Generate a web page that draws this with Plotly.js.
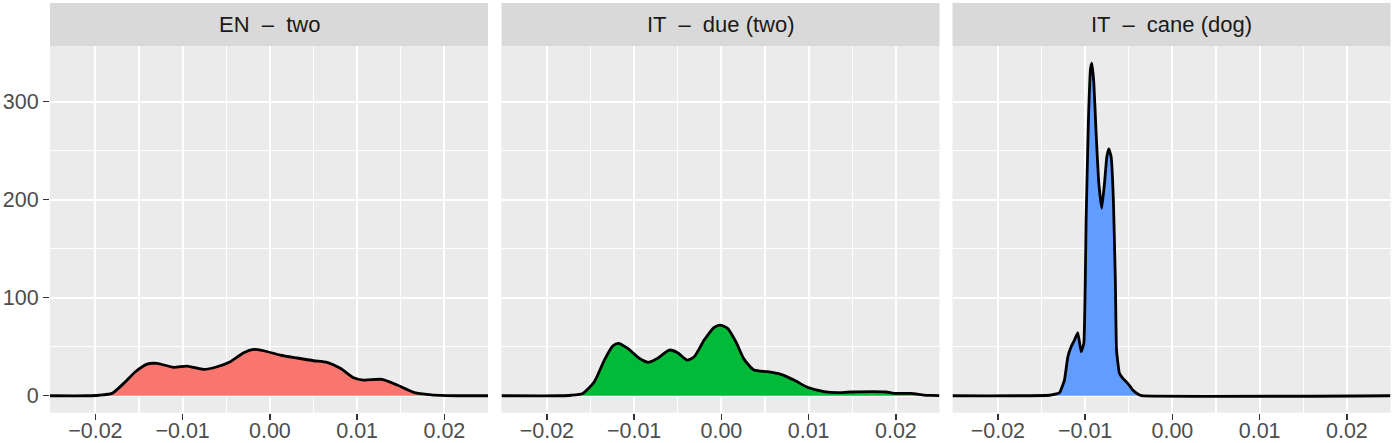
<!DOCTYPE html>
<html>
<head>
<meta charset="utf-8">
<script src="https://cdn.plot.ly/plotly-3.0.1.min.js"></script>
<style>html,body{margin:0;padding:0;background:#fff;}#chart{width:1392px;height:443px;}</style>
</head>
<body>
<div id="chart"></div>
<script>
// ---- data ----
const panelTitles = ["EN \u00a0\u2013\u00a0 two", "IT \u00a0\u2013\u00a0 due (two)", "IT \u00a0\u2013\u00a0 cane (dog)"];
const fillColors = ["#F8766D", "#00BA38", "#619CFF"];

const enX = [-0.0252, -0.0210, -0.01962, -0.01809, -0.01675, -0.01541, -0.01408, -0.01293, -0.01103, -0.00949, -0.00758, -0.00605, -0.00453, -0.0030, -0.00186, -0.00071, 0.0012, 0.00312, 0.00502, 0.00655, 0.00808, 0.0096, 0.01075, 0.01286, 0.01458, 0.01648, 0.0180, 0.01954, 0.0215, 0.0250];
const enY = [0, 0, 0.5, 2.4, 12.6, 24.5, 32.3, 33, 29, 30.3, 26.9, 29.6, 34.7, 43.9, 47.3, 45.9, 41.5, 38.5, 35.7, 34, 28, 18.4, 16, 16.7, 10.9, 3.5, 1.4, 0.3, 0, 0];

const dueX = [-0.0252, -0.0185, -0.01723, -0.01589, -0.01456, -0.01341, -0.01245, -0.01181, -0.01074, -0.00941, -0.00838, -0.0073, -0.00597, -0.00501, -0.00395, -0.00311, -0.00197, -0.00082, -0.00014, 0.00071, 0.00166, 0.00261, 0.00375, 0.00529, 0.00681, 0.00833, 0.00987, 0.01177, 0.0133, 0.01482, 0.01883, 0.01978, 0.02169, 0.02321, 0.0240, 0.0250];
const dueY = [0, 0, 0.5, 2.4, 14.3, 36.4, 50.7, 53.5, 48.4, 38.2, 34.1, 38.2, 46.6, 43.9, 36.4, 39.8, 56.8, 69.8, 72.1, 68.8, 55.1, 37.1, 26.2, 24.5, 21.8, 16, 8.6, 4.1, 3.1, 3.8, 3.8, 2.4, 2.4, 0.7, 0.3, 0.2];

const caneX = [-0.0252, -0.01409, -0.01294, -0.01237, -0.01198, -0.0116, -0.01122, -0.01084, -0.01046, -0.01015, -0.00988, -0.00961, -0.00938, -0.00923, -0.009, -0.00874, -0.00843, -0.00809, -0.00778, -0.00751, -0.00728, -0.00702, -0.00676, -0.00653, -0.0064, -0.00607, -0.00568, -0.00511, -0.00454, -0.00396, -0.0035, 0.0250];
const caneY = [0, 0.5, 3, 16, 39.8, 50, 56.8, 64.3, 44.9, 53.5, 182.7, 284.7, 333.7, 339.2, 318.8, 267.8, 216.7, 191.2, 216.7, 243.9, 251.7, 243.9, 199.7, 114.7, 46.6, 22.9, 17.8, 12.7, 5.8, 1.7, 0, 0];

const xTickVals = [-0.02, -0.01, 0, 0.01, 0.02];
const xTickText = ["\u22120.02", "\u22120.01", "0.00", "0.01", "0.02"];
const xMinorVals = [-0.015, -0.005, 0.005, 0.015];
const yTickVals = [0, 100, 200, 300];
const yTickText = ["0", "100", "200", "300"];
const yMinorVals = [50, 150, 250];

// ---- layout geometry ----
const W = 1392, H = 443;
const panelsPx = [[50, 488], [501.5, 939.5], [952.5, 1390.5]];
const plotTop = 46, plotBottom = 412.7, stripTop = 3;
const font = "Liberation Sans, Arial, Helvetica, sans-serif";
const tickSize = 21.5;

const xs = [enX, dueX, caneX];
const ys = [enY, dueY, caneY];

const traces = xs.map((x, i) => ({
  x: x, y: ys[i], type: "scatter", mode: "lines",
  xaxis: i === 0 ? "x" : "x" + (i + 1),
  yaxis: i === 0 ? "y" : "y" + (i + 1),
  fill: "tozeroy", fillcolor: fillColors[i],
  line: {color: "#000000", width: 2.8, shape: "spline", smoothing: i === 2 ? 0.35 : 0.6},
  hoverinfo: "skip", showlegend: false
}));

const layout = {
  width: W, height: H,
  margin: {l: 0, r: 0, t: 0, b: 0},
  paper_bgcolor: "#FFFFFF",
  plot_bgcolor: "#EBEBEB",
  showlegend: false,
  font: {family: font, size: tickSize, color: "#4D4D4D"},
  shapes: [],
  annotations: []
};

const yDomain = [(H - plotBottom) / H, (H - plotTop) / H];
panelsPx.forEach((p, i) => {
  const sfx = i === 0 ? "" : String(i + 1);
  const dom = [p[0] / W, p[1] / W];
  layout["xaxis" + sfx] = {
    domain: dom, range: [-0.0252, 0.0250], anchor: "y" + sfx,
    tickmode: "array", tickvals: xTickVals, ticktext: xTickText,
    ticks: "outside", ticklen: 6, tickwidth: 1.3, tickcolor: "#333333",
    ticklabelstandoff: -8,
    showgrid: true, gridcolor: "#FFFFFF", gridwidth: 2.2,
    minor: {tickmode: "array", tickvals: xMinorVals, showgrid: true, gridcolor: "#FFFFFF", gridwidth: 1.1, ticks: ""},
    zeroline: false, showline: false, fixedrange: true,
    tickfont: {family: font, size: tickSize, color: "#4D4D4D"}
  };
  layout["yaxis" + sfx] = {
    domain: yDomain, range: [-17.3, 356.8], anchor: "x" + sfx,
    tickmode: "array", tickvals: yTickVals, ticktext: yTickText,
    ticks: i === 0 ? "outside" : "", ticklen: 6, tickwidth: 1.3, tickcolor: "#333333",
    showticklabels: i === 0,
    showgrid: true, gridcolor: "#FFFFFF", gridwidth: 2.2,
    minor: {tickmode: "array", tickvals: yMinorVals, showgrid: true, gridcolor: "#FFFFFF", gridwidth: 1.1, ticks: ""},
    zeroline: false, showline: false, fixedrange: true,
    tickfont: {family: font, size: tickSize, color: "#4D4D4D"}
  };
  layout.shapes.push({
    type: "rect", xref: "paper", yref: "paper",
    x0: dom[0], x1: dom[1], y0: (H - plotTop) / H, y1: (H - stripTop) / H,
    fillcolor: "#D9D9D9", line: {width: 0}, layer: "below"
  });
  layout.annotations.push({
    xref: "paper", yref: "paper", x: (dom[0] + dom[1]) / 2, y: (H - (plotTop + stripTop) / 2) / H,
    xanchor: "center", yanchor: "middle", showarrow: false,
    text: panelTitles[i], font: {family: font, size: 22, color: "#1A1A1A"}
  });
});

Plotly.newPlot("chart", traces, layout, {displayModeBar: false, staticPlot: true});
</script>
</body>
</html>
